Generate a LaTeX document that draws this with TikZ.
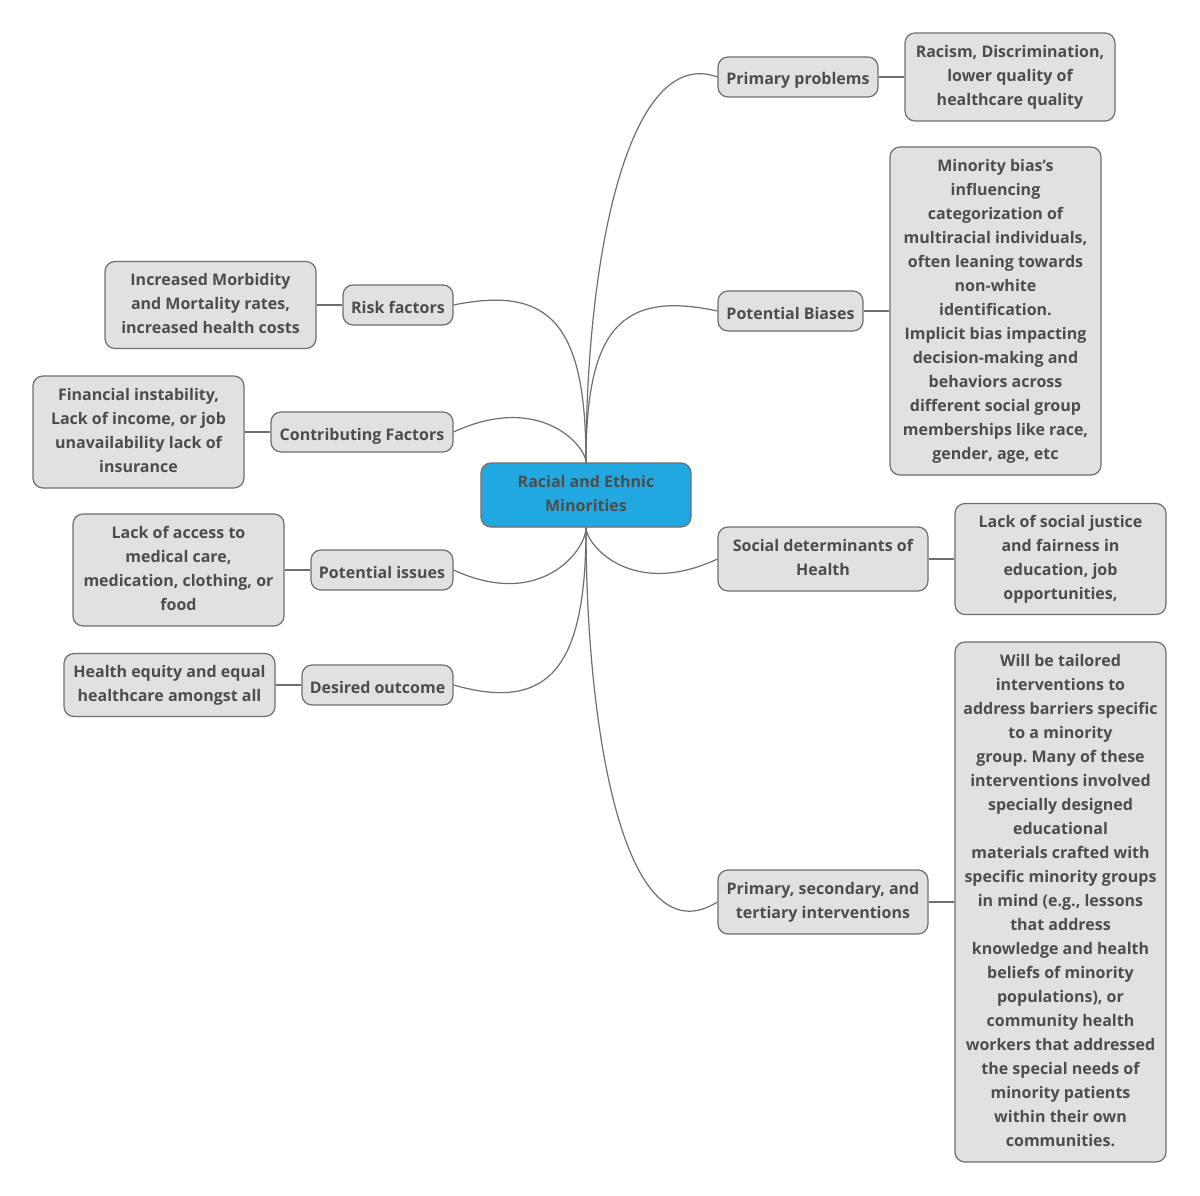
\documentclass[tikz,border=0pt]{standalone}
\usepackage{fontspec}
\setmainfont{Open Sans}
\usepackage{tikz}
\frenchspacing

\definecolor{ink}{HTML}{4D4D4D}
\definecolor{rim}{HTML}{6E6E6E}
\definecolor{pale}{HTML}{E1E1E1}
\definecolor{sky}{HTML}{22A8E0}

\newcommand\boxstrut{\rule[-4pt]{0pt}{24pt}}

\tikzset{root/.style  = {rectangle, rounded corners=10, draw=rim, line width=1.2, fill=sky,
                         text=ink, align=center, inner sep=2,
                         font=\bfseries\fontsize{16}{24}\selectfont,
                         execute at begin node=\boxstrut, execute at end node=\boxstrut},
         topic/.style = {root, fill=pale},
         link/.style  = {draw=rim, line width=1.2}}

\begin{document}
\begin{tikzpicture}[x=1pt, y=-1pt]
        \useasboundingbox (0, 0) rectangle (1200, 1196);

        \node [root, minimum width=210, minimum height=64] (M) at (586, 495) {Racial and Ethnic\\Minorities};

        % right side
        \begin{scope}
            \node [topic, minimum width=160, minimum height=40]  (PP)  at ( 798,  77) {Primary problems};
            \node [topic, minimum width=210, minimum height=88]  (PPd) at (1010,  77) {Racism, Discrimination,\\lower quality of\\healthcare quality};

            \node [topic, minimum width=145, minimum height=40]  (PB)  at ( 790.5, 311) {Potential Biases};
            \node [topic, minimum width=211, minimum height=328] (PBd) at ( 995.5, 311) {Minority bias’s\\influencing\\categorization of\\multiracial individuals,\\often leaning towards\\non-white\\identification.\\Implicit bias impacting\\decision-making and\\behaviors across\\different social group\\memberships like race,\\gender, age, etc};

            \node [topic, minimum width=210, minimum height=64]  (SD)  at ( 823, 559) {Social determinants of\\Health};
            \node [topic, minimum width=211, minimum height=111] (SDd) at (1060.5, 559) {Lack of social justice\\and fairness in\\education, job\\opportunities,};

            \node [topic, minimum width=210, minimum height=64]  (PI)  at ( 823, 902) {Primary, secondary, and\\tertiary interventions};
            \node [topic, minimum width=211, minimum height=520] (PId) at (1060.5, 902) {Will be tailored\\interventions to\\address barriers specific\\to a minority\\group. Many of these\\interventions involved\\specially designed\\educational\\materials crafted with\\specific minority groups\\in mind (e.g., lessons\\that address\\knowledge and health\\beliefs of minority\\populations), or\\community health\\workers that addressed\\the special needs of\\minority patients\\within their own\\communities.};

            \draw [link] (M.north) .. controls (586, 251) and (630, 45)  .. (PP.west);
            \draw [link] (M.north) .. controls (586, 330) and (620, 290) .. (PB.west);
            \draw [link] (M.south) .. controls (586, 545) and (632, 599) .. (SD.west);
            \draw [link] (M.south) .. controls (586, 733) and (625, 960) .. (PI.west);

            \draw [link] (PP) -- (PPd);
            \draw [link] (PB) -- (PBd);
            \draw [link] (SD) -- (SDd);
            \draw [link] (PI) -- (PId);
        \end{scope}

        % left side
        \begin{scope}
            \node [topic, minimum width=110, minimum height=40]  (RF)  at (398, 305) {Risk factors};
            \node [topic, minimum width=211, minimum height=87]  (RFd) at (210.5, 305) {Increased Morbidity\\and Mortality rates,\\increased health costs};

            \node [topic, minimum width=182, minimum height=40]  (CF)  at (362, 432) {Contributing Factors};
            \node [topic, minimum width=211, minimum height=112] (CFd) at (138.5, 432) {Financial instability,\\Lack of income, or job\\unavailability lack of\\insurance};

            \node [topic, minimum width=142, minimum height=40]  (IS)  at (382, 570) {Potential issues};
            \node [topic, minimum width=211, minimum height=112] (ISd) at (178.5, 570) {Lack of access to\\medical care,\\medication, clothing, or\\food};

            \node [topic, minimum width=151, minimum height=40]  (DO)  at (377.5, 685) {Desired outcome};
            \node [topic, minimum width=211, minimum height=63]  (DOd) at (169.5, 685) {Health equity and equal\\healthcare amongst all};

            \draw [link] (M.north) .. controls (586, 325) and (551, 285) .. (RF.east);
            \draw [link] (M.north) .. controls (586, 446) and (540, 392) .. (CF.east);
            \draw [link] (M.south) .. controls (586, 551) and (540, 610) .. (IS.east);
            \draw [link] (M.south) .. controls (586, 665) and (551, 713) .. (DO.east);

            \draw [link] (RF) -- (RFd);
            \draw [link] (CF) -- (CFd);
            \draw [link] (IS) -- (ISd);
            \draw [link] (DO) -- (DOd);
        \end{scope}
    \end{tikzpicture}
\end{document}
